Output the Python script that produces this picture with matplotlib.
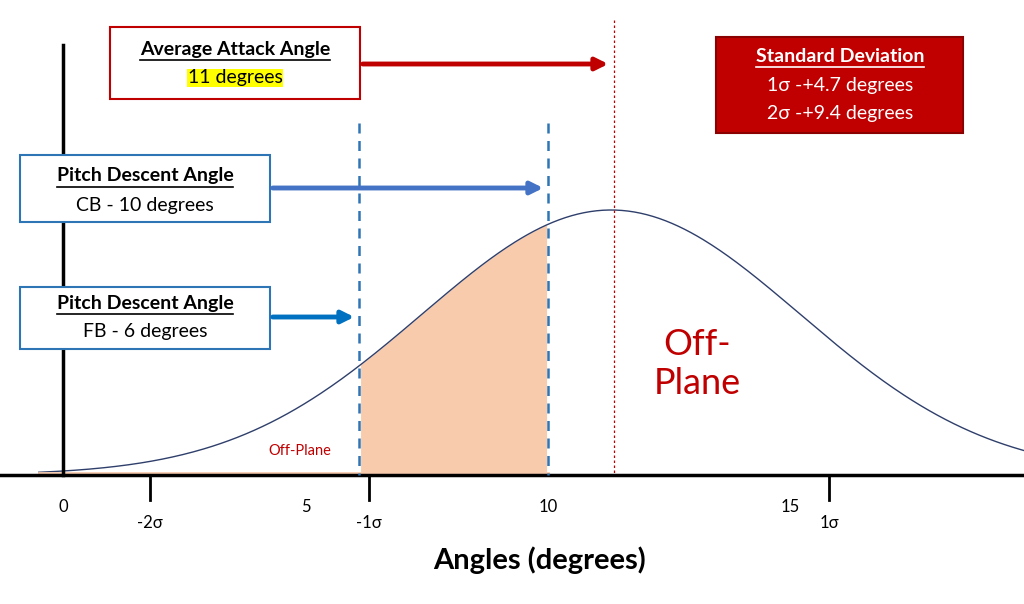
import numpy as np
import matplotlib.pyplot as plt
from matplotlib.patches import Rectangle

plt.rcParams['font.family'] = ['Lato', 'DejaVu Sans']

# data
mean_angle = 11.3
sd_angle = 3.9
major_ticks = [0, 5, 10, 15, 20]
sigma_ticks = [1.8, 6.3, 15.8]
sigma_labels = ['-2σ', '-1σ', '1σ']
fb_angle = 6.1
cb_angle = 10.0
attack_angle = 11.36

W, H = 1024, 604
px_per_unit = 48.5
x0px = 63
base = 475
peak_h = 265

fig = plt.figure(figsize=(W/100, H/100), dpi=100)
ax = fig.add_axes([0, 0, 1, 1])
ax.set_xlim(-x0px/px_per_unit, (W-x0px)/px_per_unit)
ax.set_ylim(H, 0)
ax.axis('off')

def dx(p):  # pixel x -> data
    return (p - x0px) / px_per_unit

xs = np.linspace(-0.5, 21, 500)
ys = base - peak_h*np.exp(-(xs-mean_angle)**2/(2*sd_angle**2))
ax.plot(xs, ys, color='#2F3F6B', lw=1)
m = (xs >= fb_angle) & (xs <= cb_angle)
ax.fill_between(xs[m], ys[m], base, color='#F8CBAD', lw=0)
ax.plot([-0.5, cb_angle], [base-2, base-2], color='#F8CBAD', lw=2)

ax.plot([dx(0), dx(W)], [base, base], color='black', lw=2.5)
ax.plot([0, 0], [45, base], color='black', lw=2.5)
for t in major_ticks:
    ax.text(t, 507, str(t), ha='center', va='center', fontsize=12)
for t, l in zip(sigma_ticks, sigma_labels):
    ax.plot([t, t], [base, 500], color='black', lw=2)
    ax.text(t, 523, l, ha='center', va='center', fontsize=12)
ax.text(dx(540), 560, 'Angles (degrees)', ha='center', va='center', fontsize=21, fontweight='bold')

for a in [fb_angle, cb_angle]:
    ax.plot([a, a], [123, base], color='#2E75B6', lw=1.8, ls=(0, (4, 3)))
ax.plot([attack_angle, attack_angle], [20, base], color='#C00000', lw=0.9, ls=(0, (2, 2)))

def box(x1, y1, x2, y2, ec, fc='white'):
    ax.add_patch(Rectangle((dx(x1), y2), (x2-x1)/px_per_unit, y1-y2, ec=ec, fc=fc, lw=1.5, zorder=3))

underlined = []
def utext(x, y, s, c='black'):
    t = ax.text(dx(x), y, s, ha='center', va='center', fontsize=14, fontweight='bold', color=c, zorder=5)
    underlined.append((t, y + 11, c))

def arrow(x1, x2, y, c, lw):
    ax.annotate('', xy=(dx(x2), y), xytext=(dx(x1), y),
                arrowprops=dict(arrowstyle='-|>', color=c, lw=lw, mutation_scale=18), zorder=4)

box(110, 27, 360, 99, '#C00000')
utext(235, 49, 'Average Attack Angle')
ax.text(dx(235), 78, '11 degrees', ha='center', va='center', fontsize=14, zorder=5,
        bbox=dict(fc='#FFFF00', ec='none', pad=0.5))
arrow(360, 611, 64, '#C00000', 3.5)

box(716, 37, 963, 133, '#8B0000', '#C00000')
utext(840, 56, 'Standard Deviation', 'white')
ax.text(dx(840), 86, '1σ -+4.7 degrees', ha='center', va='center', fontsize=14, color='white', zorder=5)
ax.text(dx(840), 113, '2σ -+9.4 degrees', ha='center', va='center', fontsize=14, color='white', zorder=5)

box(20, 155, 270, 222, '#2E75B6')
utext(145, 176, 'Pitch Descent Angle')
ax.text(dx(145), 205, 'CB - 10 degrees', ha='center', va='center', fontsize=14, zorder=5)
arrow(270, 546, 188, '#4472C4', 3.5)

box(20, 287, 270, 349, '#2E75B6')
utext(145, 303, 'Pitch Descent Angle')
ax.text(dx(145), 331, 'FB - 6 degrees', ha='center', va='center', fontsize=14, zorder=5)
arrow(270, 357, 317, '#0070C0', 3.5)

ax.text(dx(697), 364, 'Off-\nPlane', ha='center', va='center', fontsize=26, color='#C00000', linespacing=1.25)
ax.text(dx(300), 451, 'Off-Plane', ha='center', va='center', fontsize=10.5, color='#C00000')

fig.canvas.draw()
r = fig.canvas.get_renderer()
for t, yy, c in underlined:
    bb = t.get_window_extent(r)
    ax.plot([dx(bb.x0), dx(bb.x1)], [yy, yy], color=c, lw=1.2, zorder=6)

fig.savefig('out.png', dpi=100)
